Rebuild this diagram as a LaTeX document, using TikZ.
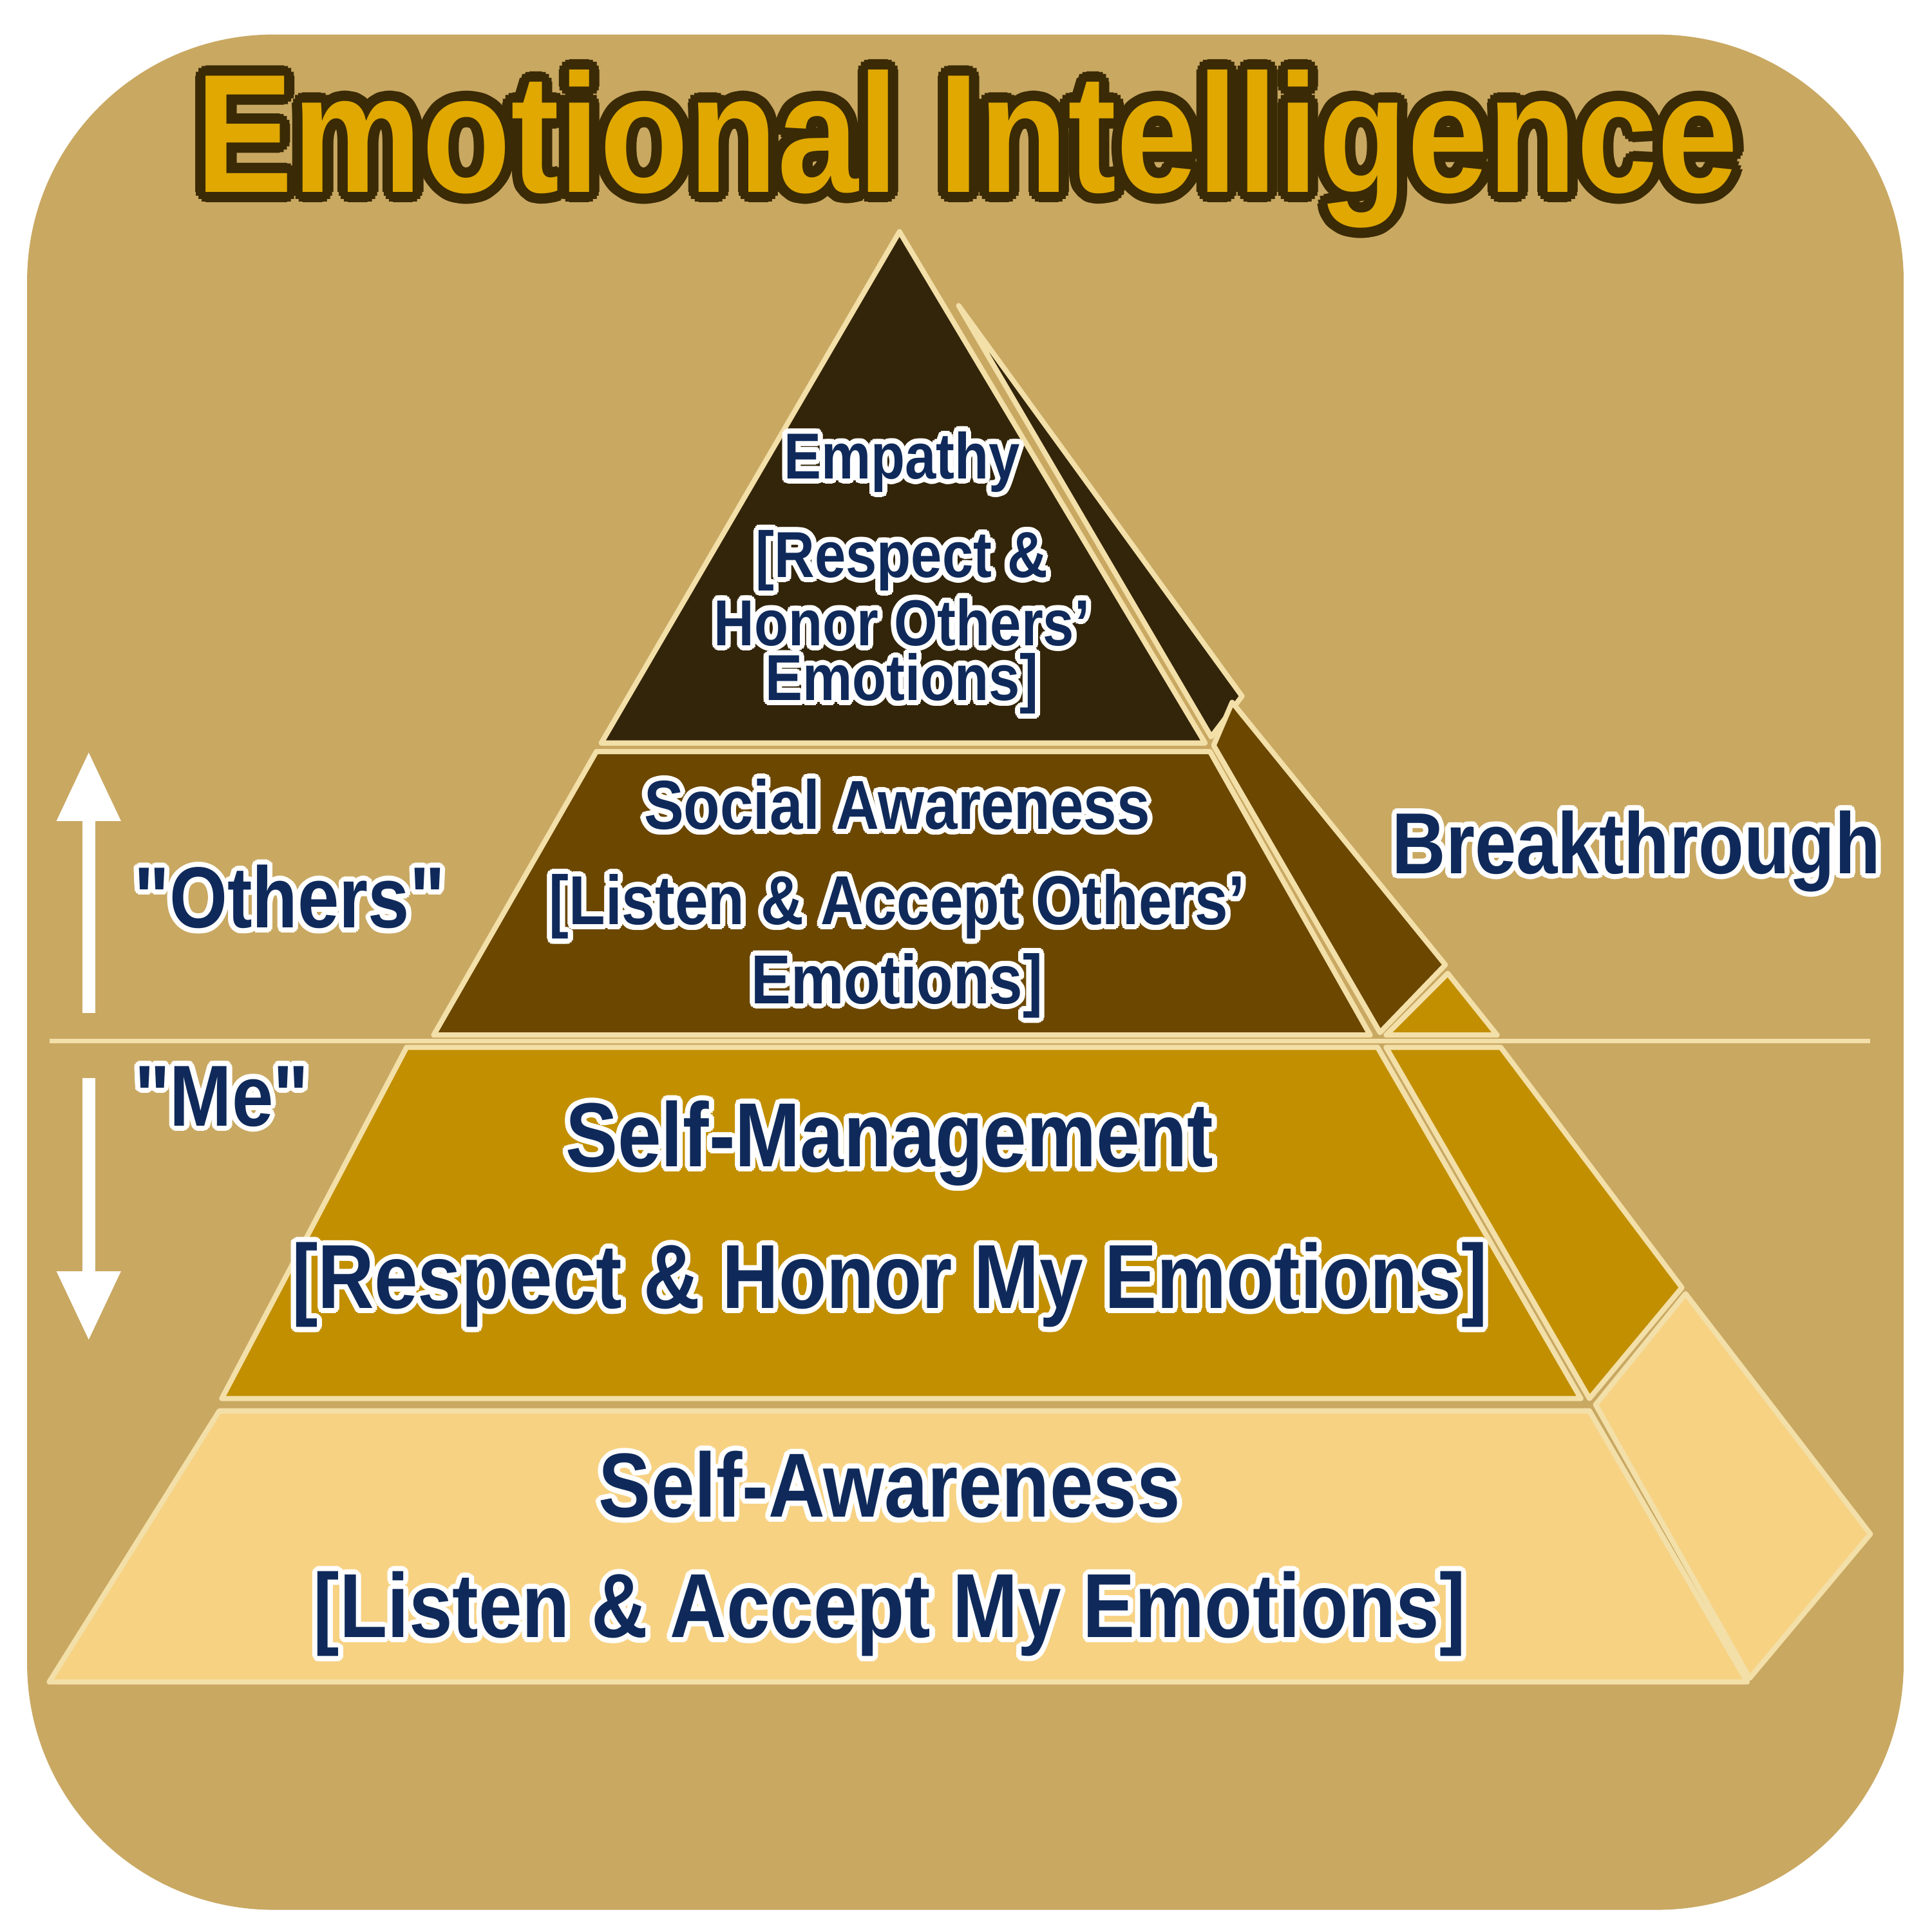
\documentclass[tikz,border=0pt]{standalone}
\usepackage{fontspec}
\setmainfont{Liberation Sans}[FakeStretch=0.86]
\newfontfamily\qfont{Liberation Sans}[FakeStretch=0.86]
\usepackage{contour}
\contournumber{16}
\usetikzlibrary{arrows.meta, positioning}
\definecolor{bgtan}{HTML}{C9A862}
\definecolor{tierone}{HTML}{33250A}
\definecolor{tiertwo}{HTML}{6B4700}
\definecolor{tierthree}{HTML}{C28F00}
\definecolor{tierfour}{HTML}{F7D283}
\definecolor{navy}{HTML}{0F2A5A}
\definecolor{gold}{HTML}{E0A800}
\definecolor{darkrim}{HTML}{3A2A05}
\definecolor{rimline}{HTML}{F3DFA8}
\newcommand{\wlabel}[1]{\contourlength{1.2pt}\contour{white}{#1}}
\begin{document}
\begin{tikzpicture}[
    x=0.01cm, y=-0.01cm,
    label/.style={font=\bfseries\fontsize{15}{18}\selectfont, text=navy, inner sep=0pt},
    big label/.style={font=\bfseries\fontsize{21}{25}\selectfont, text=navy, inner sep=0pt},
    side label/.style={font=\bfseries\fontsize{20}{24}\selectfont, text=navy, inner sep=0pt},
    tier/.style={draw=rimline, line width=1.2pt, line join=round},
    guide/.style={draw=white, line width=3pt, -{Triangle[width=14pt,length=16pt]}}
]

% Background
\useasboundingbox (0,0) rectangle (1568,1568);
\fill[white] (0,0) rectangle (1568,1568);
\fill[bgtan, rounded corners=2cm] (22,28) rectangle (1545,1550);

% Title
\node[font=\bfseries\fontsize{39}{44}\selectfont, text=gold, inner sep=0pt] (title) at (785,125)
    {\contourlength{2.4pt}\contour{darkrim}{Emotional Intelligence}};

% Front tiers
\draw[tier, fill=tierone] (730,188) -- (978,603) -- (488,603) -- cycle;
\draw[tier, fill=tiertwo] (484,610) -- (982,610) -- (1112,840) -- (352,840) -- cycle;
\draw[tier, fill=tierthree] (330,850) -- (1118,850) -- (1283,1135) -- (180,1135) -- cycle;
\draw[tier, fill=tierfour] (178,1145) -- (1290,1145) -- (1418,1365) -- (40,1365) -- cycle;

% Side faces
\draw[tier, fill=tierone] (778,248) -- (1008,565) -- (983,598) -- cycle;
\draw[tier, fill=tiertwo] (985,605) -- (1000,570) -- (1173,783) -- (1120,838) -- cycle;
\draw[tier, fill=tierthree] (1125,840) -- (1175,790) -- (1215,840) -- cycle;
\draw[tier, fill=tierthree] (1125,850) -- (1218,850) -- (1365,1045) -- (1290,1135) -- cycle;
\draw[tier, fill=tierfour] (1295,1140) -- (1368,1050) -- (1518,1245) -- (1420,1362) -- cycle;

% Divider
\coordinate (divL) at (40,845);
\coordinate (divR) at (1518,845);
\draw[rimline, line width=1pt] (divL) -- (divR);

% Arrows
\coordinate (upS) at (72,822);
\coordinate (upE) at (72,610);
\coordinate (dnS) at (72,875);
\coordinate (dnE) at (72,1088);
\draw[guide] (upS) -- (upE);
\draw[guide] (dnS) -- (dnE);

% Labels
\node[label] (emp) at (732,377) {\wlabel{Empathy}};
\node[label] (emp1) at (732,457) {\wlabel{[Respect \&}};
\node[label] (emp2) at (732,507) {\wlabel{Honor Others’}};
\node[label] (emp3) at (732,557) {\wlabel{Emotions]}};

\node[label, font=\bfseries\fontsize{16}{19}\selectfont] (soc) at (728,655) {\wlabel{Social Awareness}};
\node[label, font=\bfseries\fontsize{16}{19}\selectfont] (soc1) at (728,738) {\wlabel{[Listen \& Accept Others’}};
\node[label, font=\bfseries\fontsize{16}{19}\selectfont] (soc2) at (728,802) {\wlabel{Emotions]}};

\node[big label] (mgmt) at (722,930) {\wlabel{Self-Management}};
\node[big label] (mgmt1) at (722,1045) {\wlabel{[Respect \& Honor My Emotions]}};
\node[big label] (aware) at (722,1207) {\wlabel{Self-Awareness}};
\node[big label] (aware1) at (722,1312) {\wlabel{[Listen \& Accept My Emotions]}};

\node[side label] (brk) at (1328,693) {\wlabel{Breakthrough}};
\node[side label, font=\qfont\bfseries\fontsize{20}{24}\selectfont] (oth) at (235,730) {\wlabel{"Others"}};
\node[side label, font=\qfont\bfseries\fontsize{20}{24}\selectfont] (me) at (180,892) {\wlabel{"Me"}};

\end{tikzpicture}
\end{document}
